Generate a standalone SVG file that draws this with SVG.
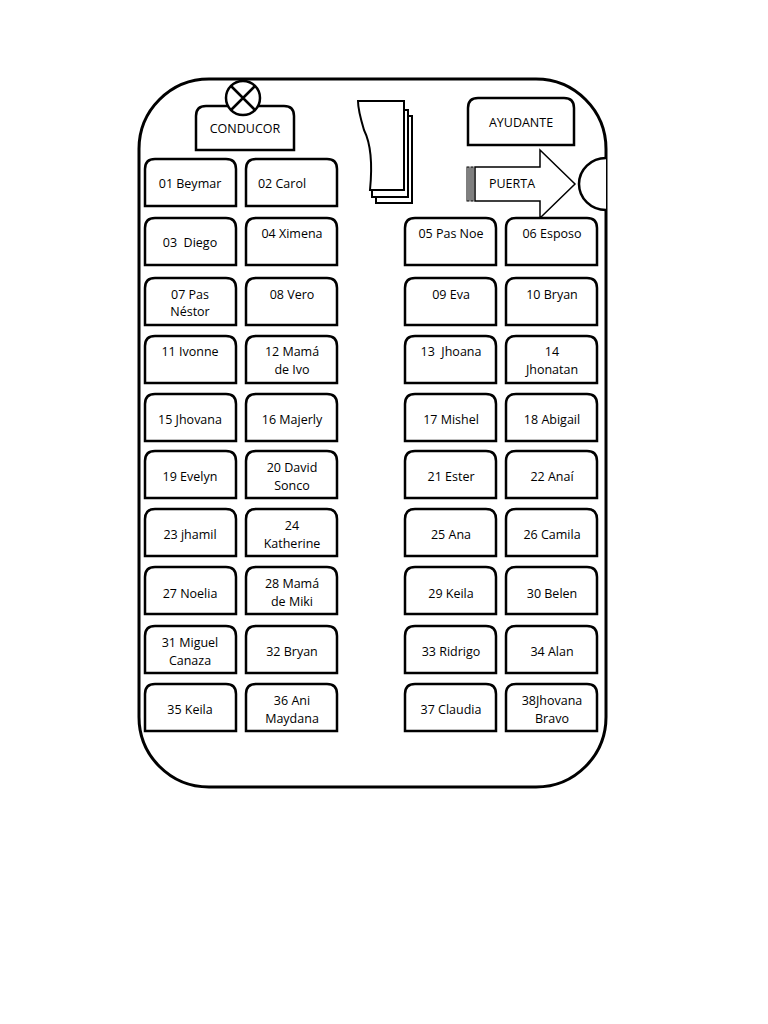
<svg xmlns="http://www.w3.org/2000/svg" xmlns:xlink="http://www.w3.org/1999/xlink" width="768" height="1024" viewBox="0 0 768 1024">
<style>
.s{fill:#fff;stroke:#000;stroke-width:2.5}
text{font-family:"Open Sans","Liberation Sans",sans-serif;font-size:12.5px;text-anchor:middle;fill:#000;white-space:pre}
</style>
<defs>
<path id="seat" d="M0,47 V10 Q0,0 10,0 H81 Q91,0 91,10 V47 Z"/>
</defs>
<rect width="768" height="1024" fill="#fff"/>
<rect id="bus" x="139" y="79" width="467" height="708" rx="70" ry="70" fill="#fff" stroke="#000" stroke-width="3"/>
<g id="conductor">
<path class="s" d="M196,150 V116 Q196,106 206,106 H284 Q294,106 294,116 V150 Z"/>
<circle cx="243" cy="98" r="17" class="s"/>
<path d="M231,86 L255,110 M255,86 L231,110" stroke="#000" stroke-width="2.5"/>
<text x="245" y="133">CONDUCOR</text>
</g>
<g id="ayudante">
<path class="s" d="M468,145 V108 Q468,98 478,98 H564 Q574,98 574,108 V145 Z"/>
<text x="521" y="127">AYUDANTE</text>
</g>
<g id="stairs" fill="#fff" stroke="#000" stroke-width="2">
<path d="M376,203 V116 H412 V203 Z"/>
<path d="M372,197 V110 H408 V197 Z"/>
<path d="M370,190 Q374,150 364,130 Q358,110 358,101 H404 V190 Z"/>
</g>
<g id="puerta">
<rect x="467" y="167" width="2" height="34" fill="#fff" stroke="#000" stroke-width="1"/>
<rect x="471" y="167" width="2" height="34" fill="#fff" stroke="#000" stroke-width="1"/>
<path d="M475,167 H540 V150 L575,184 L540,218 V201 H475 Z" fill="#fff" stroke="#000" stroke-width="1.5"/>
<path d="M606,158 A27,26 0 0 0 606,210" fill="#fff" stroke="#000" stroke-width="2.5"/>
<text x="512" y="188">PUERTA</text>
</g>
<g id="seats">
<g id="s01"><use href="#seat" class="s" x="145" y="159"/><text x="190" y="188">01 Beymar</text></g>
<g id="s02"><use href="#seat" class="s" x="246" y="159"/><text x="282" y="188">02 Carol</text></g>
<g id="s03"><use href="#seat" class="s" x="145" y="218"/><text x="190" y="247" xml:space="preserve">03  Diego</text></g>
<g id="s04"><use href="#seat" class="s" x="246" y="218"/><text x="292" y="238">04 Ximena</text></g>
<g id="s05"><use href="#seat" class="s" x="405" y="218"/><text x="451" y="238">05 Pas Noe</text></g>
<g id="s06"><use href="#seat" class="s" x="506" y="218"/><text x="552" y="238">06 Esposo</text></g>
<g id="s07"><use href="#seat" class="s" x="145" y="278"/><text x="190" y="299">07 Pas</text><text x="190" y="316">Néstor</text></g>
<g id="s08"><use href="#seat" class="s" x="246" y="278"/><text x="292" y="299">08 Vero</text></g>
<g id="s09"><use href="#seat" class="s" x="405" y="278"/><text x="451" y="299">09 Eva</text></g>
<g id="s10"><use href="#seat" class="s" x="506" y="278"/><text x="552" y="299">10 Bryan</text></g>
<g id="s11"><use href="#seat" class="s" x="145" y="336"/><text x="190" y="356">11 Ivonne</text></g>
<g id="s12"><use href="#seat" class="s" x="246" y="336"/><text x="292" y="356">12 Mamá</text><text x="292" y="374">de Ivo</text></g>
<g id="s13"><use href="#seat" class="s" x="405" y="336"/><text x="451" y="356" xml:space="preserve">13  Jhoana</text></g>
<g id="s14"><use href="#seat" class="s" x="506" y="336"/><text x="552" y="356">14</text><text x="552" y="374">Jhonatan</text></g>
<g id="s15"><use href="#seat" class="s" x="145" y="394"/><text x="190" y="424">15 Jhovana</text></g>
<g id="s16"><use href="#seat" class="s" x="246" y="394"/><text x="292" y="424">16 Majerly</text></g>
<g id="s17"><use href="#seat" class="s" x="405" y="394"/><text x="451" y="424">17 Mishel</text></g>
<g id="s18"><use href="#seat" class="s" x="506" y="394"/><text x="552" y="424">18 Abigail</text></g>
<g id="s19"><use href="#seat" class="s" x="145" y="451"/><text x="190" y="481">19 Evelyn</text></g>
<g id="s20"><use href="#seat" class="s" x="246" y="451"/><text x="292" y="472">20 David</text><text x="292" y="490">Sonco</text></g>
<g id="s21"><use href="#seat" class="s" x="405" y="451"/><text x="451" y="481">21 Ester</text></g>
<g id="s22"><use href="#seat" class="s" x="506" y="451"/><text x="552" y="481">22 Anaí</text></g>
<g id="s23"><use href="#seat" class="s" x="145" y="509"/><text x="190" y="539">23 jhamil</text></g>
<g id="s24"><use href="#seat" class="s" x="246" y="509"/><text x="292" y="530">24</text><text x="292" y="548">Katherine</text></g>
<g id="s25"><use href="#seat" class="s" x="405" y="509"/><text x="451" y="539">25 Ana</text></g>
<g id="s26"><use href="#seat" class="s" x="506" y="509"/><text x="552" y="539">26 Camila</text></g>
<g id="s27"><use href="#seat" class="s" x="145" y="567"/><text x="190" y="598">27 Noelia</text></g>
<g id="s28"><use href="#seat" class="s" x="246" y="567"/><text x="292" y="588">28 Mamá</text><text x="292" y="606">de Miki</text></g>
<g id="s29"><use href="#seat" class="s" x="405" y="567"/><text x="451" y="598">29 Keila</text></g>
<g id="s30"><use href="#seat" class="s" x="506" y="567"/><text x="552" y="598">30 Belen</text></g>
<g id="s31"><use href="#seat" class="s" x="145" y="626"/><text x="190" y="647">31 Miguel</text><text x="190" y="665">Canaza</text></g>
<g id="s32"><use href="#seat" class="s" x="246" y="626"/><text x="292" y="656">32 Bryan</text></g>
<g id="s33"><use href="#seat" class="s" x="405" y="626"/><text x="451" y="656">33 Ridrigo</text></g>
<g id="s34"><use href="#seat" class="s" x="506" y="626"/><text x="552" y="656">34 Alan</text></g>
<g id="s35"><use href="#seat" class="s" x="145" y="684"/><text x="190" y="714">35 Keila</text></g>
<g id="s36"><use href="#seat" class="s" x="246" y="684"/><text x="292" y="705">36 Ani</text><text x="292" y="723">Maydana</text></g>
<g id="s37"><use href="#seat" class="s" x="405" y="684"/><text x="451" y="714">37 Claudia</text></g>
<g id="s38"><use href="#seat" class="s" x="506" y="684"/><text x="552" y="705">38Jhovana</text><text x="552" y="723">Bravo</text></g>
</g>
<g id="connectors"/>
</svg>
